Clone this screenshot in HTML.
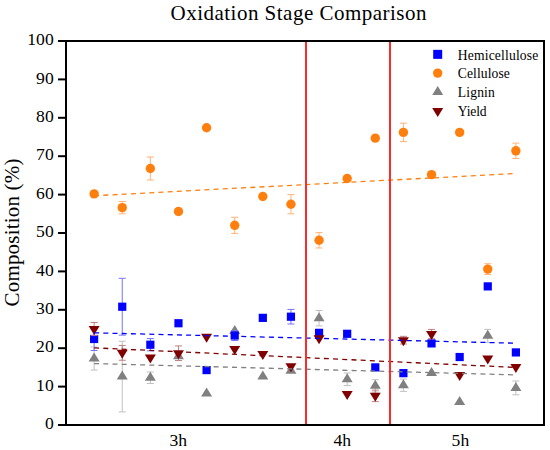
<!DOCTYPE html>
<html><head><meta charset="utf-8"><style>
html,body{margin:0;padding:0;background:#fff;width:550px;height:450px;overflow:hidden}
svg{display:block}
text{font-family:"Liberation Serif",serif;fill:#000}
.tk{font-size:17.6px}
.ttl{font-size:21px}
.yl{font-size:21px}
.lg{font-size:13.6px}
</style></head><body>
<svg width="550" height="450" viewBox="0 0 550 450">
<rect width="550" height="450" fill="#fff"/>
<path d="M122.24 201.51V213.8M118.74 201.51H125.74M118.74 213.8H125.74" stroke="#ffb378" stroke-width="1" fill="none"/>
<path d="M150.35 156.97V180.01M146.85 156.97H153.85M146.85 180.01H153.85" stroke="#ffb378" stroke-width="1" fill="none"/>
<path d="M234.71 217.26V233.38M231.21 217.26H238.21M231.21 233.38H238.21" stroke="#ffb378" stroke-width="1" fill="none"/>
<path d="M290.94 194.6V213.8M287.44 194.6H294.44M287.44 213.8H294.44" stroke="#ffb378" stroke-width="1" fill="none"/>
<path d="M319.06 232.62V247.98M315.56 232.62H322.56M315.56 247.98H322.56" stroke="#ffb378" stroke-width="1" fill="none"/>
<path d="M403.41 123.18V141.61M399.91 123.18H406.91M399.91 141.61H406.91" stroke="#ffb378" stroke-width="1" fill="none"/>
<path d="M487.76 263.72V274.47M484.26 263.72H491.26M484.26 274.47H491.26" stroke="#ffb378" stroke-width="1" fill="none"/>
<path d="M515.88 143.14V158.5M512.38 143.14H519.38M512.38 158.5H519.38" stroke="#ffb378" stroke-width="1" fill="none"/>
<circle cx="94.12" cy="193.83" r="4.7" fill="#ff7f0e"/>
<circle cx="122.24" cy="207.66" r="4.7" fill="#ff7f0e"/>
<circle cx="150.35" cy="168.49" r="4.7" fill="#ff7f0e"/>
<circle cx="178.47" cy="211.5" r="4.7" fill="#ff7f0e"/>
<circle cx="206.59" cy="127.78" r="4.7" fill="#ff7f0e"/>
<circle cx="234.71" cy="225.32" r="4.7" fill="#ff7f0e"/>
<circle cx="262.82" cy="196.52" r="4.7" fill="#ff7f0e"/>
<circle cx="290.94" cy="204.2" r="4.7" fill="#ff7f0e"/>
<circle cx="319.06" cy="240.3" r="4.7" fill="#ff7f0e"/>
<circle cx="347.18" cy="178.47" r="4.7" fill="#ff7f0e"/>
<circle cx="375.29" cy="138.15" r="4.7" fill="#ff7f0e"/>
<circle cx="403.41" cy="132.39" r="4.7" fill="#ff7f0e"/>
<circle cx="431.53" cy="174.63" r="4.7" fill="#ff7f0e"/>
<circle cx="459.65" cy="132.39" r="4.7" fill="#ff7f0e"/>
<circle cx="487.76" cy="269.1" r="4.7" fill="#ff7f0e"/>
<circle cx="515.88" cy="150.82" r="4.7" fill="#ff7f0e"/>
<path d="M94.12 347.01V370.05M90.62 347.01H97.62M90.62 370.05H97.62" stroke="#c0c0c0" stroke-width="1" fill="none"/>
<path d="M122.24 341.25V411.91M118.74 341.25H125.74M118.74 411.91H125.74" stroke="#c0c0c0" stroke-width="1" fill="none"/>
<path d="M150.35 371.97V383.49M146.85 371.97H153.85M146.85 383.49H153.85" stroke="#c0c0c0" stroke-width="1" fill="none"/>
<path d="M319.06 310.53V325.89M315.56 310.53H322.56M315.56 325.89H322.56" stroke="#c0c0c0" stroke-width="1" fill="none"/>
<path d="M347.18 373.01V385.52M343.68 373.01H350.68M343.68 385.52H350.68" stroke="#c0c0c0" stroke-width="1" fill="none"/>
<path d="M375.29 379.65V391.94M371.79 379.65H378.79M371.79 391.94H378.79" stroke="#c0c0c0" stroke-width="1" fill="none"/>
<path d="M403.41 379.07V391.36M399.91 379.07H406.91M399.91 391.36H406.91" stroke="#c0c0c0" stroke-width="1" fill="none"/>
<path d="M487.76 329.35V342.4M484.26 329.35H491.26M484.26 342.4H491.26" stroke="#c0c0c0" stroke-width="1" fill="none"/>
<path d="M515.88 380.99V394.82M512.38 380.99H519.38M512.38 394.82H519.38" stroke="#c0c0c0" stroke-width="1" fill="none"/>
<path d="M94.12 352.53L99.62 361.53L88.62 361.53Z" fill="#808080"/>
<path d="M122.24 370.58L127.74 379.58L116.74 379.58Z" fill="#808080"/>
<path d="M150.35 371.73L155.85 380.73L144.85 380.73Z" fill="#808080"/>
<path d="M178.47 350.23L183.97 359.23L172.97 359.23Z" fill="#808080"/>
<path d="M206.59 387.47L212.09 396.47L201.09 396.47Z" fill="#808080"/>
<path d="M234.71 324.88L240.21 333.88L229.21 333.88Z" fill="#808080"/>
<path d="M262.82 370.58L268.32 379.58L257.32 379.58Z" fill="#808080"/>
<path d="M290.94 364.82L296.44 373.82L285.44 373.82Z" fill="#808080"/>
<path d="M319.06 312.21L324.56 321.21L313.56 321.21Z" fill="#808080"/>
<path d="M347.18 373.27L352.68 382.27L341.68 382.27Z" fill="#808080"/>
<path d="M375.29 379.79L380.79 388.79L369.79 388.79Z" fill="#808080"/>
<path d="M403.41 379.22L408.91 388.22L397.91 388.22Z" fill="#808080"/>
<path d="M431.53 367.12L437.03 376.12L426.03 376.12Z" fill="#808080"/>
<path d="M459.65 395.92L465.15 404.92L454.15 404.92Z" fill="#808080"/>
<path d="M487.76 329.87L493.26 338.87L482.26 338.87Z" fill="#808080"/>
<path d="M515.88 381.91L521.38 390.91L510.38 390.91Z" fill="#808080"/>
<path d="M94.12 327.46V350.5M90.62 327.46H97.62M90.62 350.5H97.62" stroke="#7373ff" stroke-width="1" fill="none"/>
<path d="M122.24 278.31V335.14M118.74 278.31H125.74M118.74 335.14H125.74" stroke="#7373ff" stroke-width="1" fill="none"/>
<path d="M150.35 338.6V350.89M146.85 338.6H153.85M146.85 350.89H153.85" stroke="#7373ff" stroke-width="1" fill="none"/>
<path d="M234.71 330.54V340.52M231.21 330.54H238.21M231.21 340.52H238.21" stroke="#7373ff" stroke-width="1" fill="none"/>
<path d="M290.94 309.42V324.01M287.44 309.42H294.44M287.44 324.01H294.44" stroke="#7373ff" stroke-width="1" fill="none"/>
<rect x="90.02" y="334.88" width="8.2" height="8.2" fill="#0000ff"/>
<rect x="118.14" y="302.63" width="8.2" height="8.2" fill="#0000ff"/>
<rect x="146.25" y="340.64" width="8.2" height="8.2" fill="#0000ff"/>
<rect x="174.37" y="319.14" width="8.2" height="8.2" fill="#0000ff"/>
<rect x="202.49" y="365.99" width="8.2" height="8.2" fill="#0000ff"/>
<rect x="230.61" y="331.43" width="8.2" height="8.2" fill="#0000ff"/>
<rect x="258.72" y="313.76" width="8.2" height="8.2" fill="#0000ff"/>
<rect x="286.84" y="312.61" width="8.2" height="8.2" fill="#0000ff"/>
<rect x="314.96" y="328.74" width="8.2" height="8.2" fill="#0000ff"/>
<rect x="343.08" y="329.7" width="8.2" height="8.2" fill="#0000ff"/>
<rect x="371.19" y="363.3" width="8.2" height="8.2" fill="#0000ff"/>
<rect x="399.31" y="369.06" width="8.2" height="8.2" fill="#0000ff"/>
<rect x="427.43" y="339.3" width="8.2" height="8.2" fill="#0000ff"/>
<rect x="455.55" y="352.93" width="8.2" height="8.2" fill="#0000ff"/>
<rect x="483.66" y="282.28" width="8.2" height="8.2" fill="#0000ff"/>
<rect x="511.78" y="348.32" width="8.2" height="8.2" fill="#0000ff"/>
<path d="M94.12 322.51V335.57M90.62 322.51H97.62M90.62 335.57H97.62" stroke="#c08080" stroke-width="1" fill="none"/>
<path d="M122.24 345.44V360.26M118.74 345.44H125.74M118.74 360.26H125.74" stroke="#c08080" stroke-width="1" fill="none"/>
<path d="M178.47 345.93V360.53M174.97 345.93H181.97M174.97 360.53H181.97" stroke="#c08080" stroke-width="1" fill="none"/>
<path d="M375.29 390.09V401.61M371.79 390.09H378.79M371.79 401.61H378.79" stroke="#c08080" stroke-width="1" fill="none"/>
<path d="M403.41 336.33V344.01M399.91 336.33H406.91M399.91 344.01H406.91" stroke="#c08080" stroke-width="1" fill="none"/>
<path d="M431.53 329.42V338.64M428.03 329.42H435.03M428.03 338.64H435.03" stroke="#c08080" stroke-width="1" fill="none"/>
<path d="M94.12 335.04L99.62 326.04L88.62 326.04Z" fill="#800000"/>
<path d="M122.24 358.85L127.74 349.85L116.74 349.85Z" fill="#800000"/>
<path d="M150.35 363.45L155.85 354.45L144.85 354.45Z" fill="#800000"/>
<path d="M178.47 359.23L183.97 350.23L172.97 350.23Z" fill="#800000"/>
<path d="M206.59 342.72L212.09 333.72L201.09 333.72Z" fill="#800000"/>
<path d="M234.71 355.01L240.21 346.01L229.21 346.01Z" fill="#800000"/>
<path d="M262.82 360L268.32 351L257.32 351Z" fill="#800000"/>
<path d="M290.94 372.29L296.44 363.29L285.44 363.29Z" fill="#800000"/>
<path d="M319.06 344.25L324.56 335.25L313.56 335.25Z" fill="#800000"/>
<path d="M347.18 399.93L352.68 390.93L341.68 390.93Z" fill="#800000"/>
<path d="M375.29 401.85L380.79 392.85L369.79 392.85Z" fill="#800000"/>
<path d="M403.41 346.17L408.91 337.17L397.91 337.17Z" fill="#800000"/>
<path d="M431.53 340.03L437.03 331.03L426.03 331.03Z" fill="#800000"/>
<path d="M459.65 381.12L465.15 372.12L454.15 372.12Z" fill="#800000"/>
<path d="M487.76 364.61L493.26 355.61L482.26 355.61Z" fill="#800000"/>
<path d="M515.88 373.05L521.38 364.05L510.38 364.05Z" fill="#800000"/>
<line x1="94.12" y1="195.75" x2="515.88" y2="173.48" stroke="#ff7f0e" stroke-width="1.3" stroke-dasharray="5 4.2"/>
<line x1="94.12" y1="332.84" x2="515.88" y2="343.21" stroke="#0000ff" stroke-width="1.3" stroke-dasharray="5 4.2"/>
<line x1="94.12" y1="347.82" x2="515.88" y2="367.4" stroke="#800000" stroke-width="1.3" stroke-dasharray="5 4.2"/>
<line x1="94.12" y1="363.56" x2="515.88" y2="374.89" stroke="#808080" stroke-width="1.3" stroke-dasharray="5 4.2"/>
<line x1="306" y1="41" x2="306" y2="425" stroke="#ff2a2a" stroke-width="2"/>
<line x1="390" y1="41" x2="390" y2="425" stroke="#ff2a2a" stroke-width="2"/>
<rect x="433.2" y="49.85" width="9" height="9" fill="#0000ff"/>
<circle cx="437.7" cy="73.1" r="4.7" fill="#ff7f0e"/>
<path d="M437.7 85.9L443.2 94.9L432.2 94.9Z" fill="#808080"/>
<path d="M437.7 117.1L443.2 108.1L432.2 108.1Z" fill="#800000"/>
<rect x="66" y="41" width="478" height="384" fill="none" stroke="#000" stroke-width="2"/>
<line x1="58" y1="425" x2="66" y2="425" stroke="#000" stroke-width="2"/>
<text x="53.7" y="429.1" text-anchor="end" class="tk">0</text>
<line x1="58" y1="386.6" x2="66" y2="386.6" stroke="#000" stroke-width="2"/>
<text x="53.7" y="390.7" text-anchor="end" class="tk">10</text>
<line x1="58" y1="348.2" x2="66" y2="348.2" stroke="#000" stroke-width="2"/>
<text x="53.7" y="352.3" text-anchor="end" class="tk">20</text>
<line x1="58" y1="309.8" x2="66" y2="309.8" stroke="#000" stroke-width="2"/>
<text x="53.7" y="313.9" text-anchor="end" class="tk">30</text>
<line x1="58" y1="271.4" x2="66" y2="271.4" stroke="#000" stroke-width="2"/>
<text x="53.7" y="275.5" text-anchor="end" class="tk">40</text>
<line x1="58" y1="233" x2="66" y2="233" stroke="#000" stroke-width="2"/>
<text x="53.7" y="237.1" text-anchor="end" class="tk">50</text>
<line x1="58" y1="194.6" x2="66" y2="194.6" stroke="#000" stroke-width="2"/>
<text x="53.7" y="198.7" text-anchor="end" class="tk">60</text>
<line x1="58" y1="156.2" x2="66" y2="156.2" stroke="#000" stroke-width="2"/>
<text x="53.7" y="160.3" text-anchor="end" class="tk">70</text>
<line x1="58" y1="117.8" x2="66" y2="117.8" stroke="#000" stroke-width="2"/>
<text x="53.7" y="121.9" text-anchor="end" class="tk">80</text>
<line x1="58" y1="79.4" x2="66" y2="79.4" stroke="#000" stroke-width="2"/>
<text x="53.7" y="83.5" text-anchor="end" class="tk">90</text>
<line x1="58" y1="41" x2="66" y2="41" stroke="#000" stroke-width="2"/>
<text x="53.7" y="45.1" text-anchor="end" class="tk">100</text>
<text x="178.2" y="446" text-anchor="middle" class="tk">3h</text>
<text x="342.3" y="446" text-anchor="middle" class="tk">4h</text>
<text x="460.4" y="446" text-anchor="middle" class="tk">5h</text>
<text x="170.5" y="20" textLength="256" lengthAdjust="spacing" class="ttl">Oxidation Stage Comparison</text>
<text transform="translate(19 306.5) rotate(-90)" x="0" y="0" textLength="148" lengthAdjust="spacing" class="yl">Composition (%)</text>
<text x="457.8" y="59.8" textLength="80.5" lengthAdjust="spacing" class="lg">Hemicellulose</text>
<text x="457.8" y="78.4" textLength="52" lengthAdjust="spacing" class="lg">Cellulose</text>
<text x="457.8" y="97.1" textLength="37" lengthAdjust="spacing" class="lg">Lignin</text>
<text x="457.8" y="115.9" textLength="28.8" lengthAdjust="spacing" class="lg">Yield</text>
</svg></body></html>
